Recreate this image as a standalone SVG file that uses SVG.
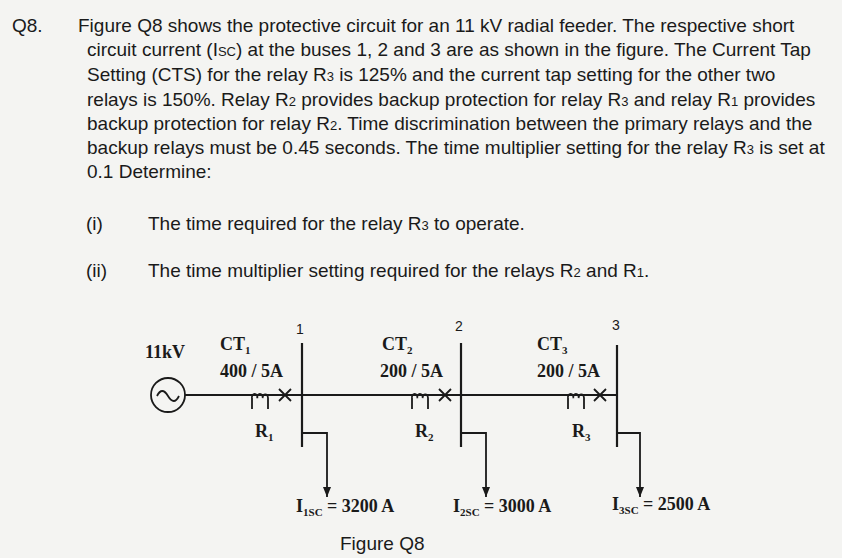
<svg xmlns="http://www.w3.org/2000/svg" width="842" height="558" viewBox="0 0 842 558">
<style>
.t{font-family:"Liberation Sans",Arial,sans-serif;font-size:19px;fill:#1a1a1a}
.s{font-family:"Liberation Serif","Times New Roman",serif;font-weight:bold;font-size:18px;fill:#1a1a1a}
.n{font-family:"Liberation Sans",Arial,sans-serif;font-size:14px;fill:#1a1a1a}
.sub{font-size:11px}
.w{stroke:#1a1a1a;stroke-width:1.8;fill:none}
.b{stroke:#1a1a1a;stroke-width:2.2;fill:none}
</style>
<defs><marker id="ar" markerWidth="12" markerHeight="10" refX="10" refY="5" orient="auto" markerUnits="userSpaceOnUse"><path d="M0,1 L10,5 L0,9 Z" fill="#1a1a1a"/></marker>
<g id="coil"><path class="w" d="M-8,409 V398 M8,409 V398 M-8,398 a2.7,3.5 0 1 1 5.3,0 a2.7,3.5 0 1 1 5.3,0 a2.7,3.5 0 1 1 5.4,0"/></g>
<g id="x"><path class="w" d="M-6,389 l12,12 M6,389 l-12,12"/></g></defs>
<rect width="842" height="558" fill="#f4f4f2"/>
<g id="question">
<text class="t" x="12" y="32">Q8.</text>
<text class="t" x="78" y="32">Figure Q8 shows the protective circuit for an 11 kV radial feeder. The respective short</text>
<text class="t" x="87" y="56">circuit current (I<tspan font-size="13">SC</tspan>) at the buses 1, 2 and 3 are as shown in the figure. The Current Tap</text>
<text class="t" x="87" y="81">Setting (CTS) for the relay R<tspan font-size="13">3</tspan> is 125% and the current tap setting for the other two</text>
<text class="t" x="87" y="106">relays is 150%. Relay R<tspan font-size="13">2</tspan> provides backup protection for relay R<tspan font-size="13">3</tspan> and relay R<tspan font-size="13">1</tspan> provides</text>
<text class="t" x="87" y="130">backup protection for relay R<tspan font-size="13">2</tspan>. Time discrimination between the primary relays and the</text>
<text class="t" x="87" y="154">backup relays must be 0.45 seconds. The time multiplier setting for the relay R<tspan font-size="13">3</tspan> is set at</text>
<text class="t" x="87" y="178">0.1 Determine:</text>
<text class="t" x="86" y="230">(i)</text>
<text class="t" x="148" y="230">The time required for the relay R<tspan font-size="13">3</tspan> to operate.</text>
<text class="t" x="86" y="277">(ii)</text>
<text class="t" x="148" y="277">The time multiplier setting required for the relays R<tspan font-size="13">2</tspan> and R<tspan font-size="13">1</tspan>.</text>
<text class="t" x="340" y="550">Figure Q8</text>
</g>
<g id="source"><circle class="w" cx="168" cy="395" r="17"/><path class="w" d="M157,396 q5,-10 11,0 q6,10 11,0"/><text class="s" x="145" y="358">11kV</text></g>
<g id="connectors">
<line class="w" x1="185" y1="395" x2="617" y2="395"/>
<line class="b" x1="302" y1="343" x2="302" y2="447"/>
<line class="b" x1="461" y1="343" x2="461" y2="447"/>
<line class="b" x1="617" y1="345" x2="617" y2="447"/>
<path class="w" d="M302,433 H327 V497" marker-end="url(#ar)"/>
<path class="w" d="M461,433 H486 V497" marker-end="url(#ar)"/>
<path class="w" d="M617,433 H640 V497" marker-end="url(#ar)"/>
</g>
<g id="ct1"><use href="#coil" x="260"/><use href="#x" x="285"/>
<text class="s" x="220" y="350">CT<tspan class="sub" dy="4">1</tspan></text><text class="s" x="220" y="377">400 / 5A</text><text class="s" x="255" y="437">R<tspan class="sub" dy="4">1</tspan></text><text class="n" x="296" y="334">1</text></g>
<g id="ct2"><use href="#coil" x="420"/><use href="#x" x="445"/>
<text class="s" x="382" y="350">CT<tspan class="sub" dy="4">2</tspan></text><text class="s" x="380" y="377">200 / 5A</text><text class="s" x="415" y="437">R<tspan class="sub" dy="4">2</tspan></text><text class="n" x="455" y="331">2</text></g>
<g id="ct3"><use href="#coil" x="576"/><use href="#x" x="600"/>
<text class="s" x="537" y="350">CT<tspan class="sub" dy="4">3</tspan></text><text class="s" x="537" y="377">200 / 5A</text><text class="s" x="572" y="437">R<tspan class="sub" dy="4">3</tspan></text><text class="n" x="612" y="330">3</text></g>
<g id="faults">
<text class="s" x="296" y="512">I<tspan class="sub" dy="4">1SC</tspan><tspan dy="-4"> = 3200 A</tspan></text>
<text class="s" x="453" y="512">I<tspan class="sub" dy="4">2SC</tspan><tspan dy="-4"> = 3000 A</tspan></text>
<text class="s" x="612" y="510">I<tspan class="sub" dy="4">3SC</tspan><tspan dy="-4"> = 2500 A</tspan></text>
</g>
</svg>
